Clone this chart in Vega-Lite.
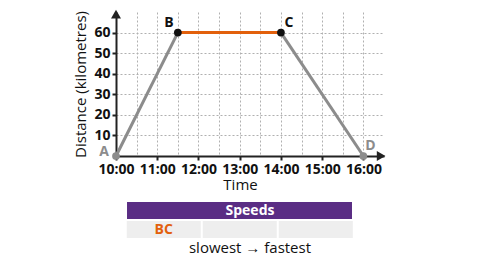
{
  "$schema": "https://vega.github.io/schema/vega-lite/v6.json",
  "padding": {"left": 73, "top": 9, "right": 0, "bottom": 0},
  "background": "white",
  "config": {"view": {"stroke": null}, "font": "Open Sans", "axis": {"labelOverlap": false}},
  "bounds": "flush",
  "spacing": 46,
  "datasets": {
    "segments": [
      {"seg": "AB", "time": 10, "distance": 0},
      {"seg": "AB", "time": 11.5, "distance": 60},
      {"seg": "BC", "time": 11.5, "distance": 60},
      {"seg": "BC", "time": 14, "distance": 60},
      {"seg": "CD", "time": 14, "distance": 60},
      {"seg": "CD", "time": 16, "distance": 0}
    ],
    "points": [
      {"p": "A", "time": 10, "distance": 0},
      {"p": "B", "time": 11.5, "distance": 60},
      {"p": "C", "time": 14, "distance": 60},
      {"p": "D", "time": 16, "distance": 0}
    ]
  },
  "vconcat": [
    {
      "width": 268,
      "height": 144,
      "layer": [
        {
          "data": {"name": "segments"},
          "mark": {"type": "line", "strokeWidth": 3},
          "encoding": {
            "x": {
              "field": "time", "type": "quantitative",
              "scale": {"domain": [10, 16.5], "nice": false, "zero": false},
              "axis": {
                "title": "Time",
                "values": [10, 10.5, 11, 11.5, 12, 12.5, 13, 13.5, 14, 14.5, 15, 15.5, 16],
                "tickCount": 30,
                "labelExpr": "datum.value % 1 == 0 ? datum.value + ':00' : ''",
                "labelOverlap": false, "labelFlush": false,
                "labelFontWeight": "bold", "labelFontSize": 14, "labelColor": "#111",
                "labelPadding": 2,
                "tickSize": 4, "tickWidth": 2, "tickColor": "#222",
                "tickOpacity": {"condition": {"test": "datum.value % 1 == 0", "value": 1}, "value": 0},
                "domainColor": "#222", "domainWidth": 2,
                "grid": true, "gridColor": "#b0b0b0", "gridDash": [2, 2], "gridWidth": 1,
                "titleFontSize": 15, "titleFontWeight": "normal", "titleColor": "#111",
                "titlePadding": 1, "titleX": 124
              }
            },
            "y": {
              "field": "distance", "type": "quantitative",
              "scale": {"domain": [0, 70], "nice": false},
              "axis": {
                "title": "Distance (kilometres)",
                "values": [0, 10, 20, 30, 40, 50, 60],
                "tickCount": 30,
                "labelExpr": "datum.value == 0 ? '' : '' + datum.value",
                "labelOverlap": false, "labelFlush": false,
                "labelFontWeight": "bold", "labelFontSize": 14, "labelColor": "#111",
                "labelPadding": 2,
                "tickSize": 4, "tickWidth": 2, "tickColor": "#222",
                "tickOpacity": {"condition": {"test": "datum.value > 0", "value": 1}, "value": 0},
                "domainColor": "#222", "domainWidth": 2,
                "grid": true, "gridColor": "#b0b0b0", "gridDash": [2, 2], "gridWidth": 1,
                "titleFontSize": 15, "titleFontWeight": "normal", "titleColor": "#111",
                "titlePadding": 5
              }
            },
            "detail": {"field": "seg"},
            "color": {
              "field": "seg", "type": "nominal", "legend": null,
              "scale": {"domain": ["AB", "BC", "CD"], "range": ["#8c8c8c", "#e2600c", "#8c8c8c"]}
            }
          }
        },
        {
          "data": {"values": [{"axis": "y", "time": 10, "distance": 69}]},
          "mark": {"type": "point", "shape": "triangle-up", "filled": true, "size": 100, "color": "#222", "opacity": 1},
          "encoding": {
            "x": {"field": "time", "type": "quantitative"},
            "y": {"field": "distance", "type": "quantitative"}
          }
        },
        {
          "data": {"values": [{"axis": "x", "time": 16.43, "distance": 0}]},
          "mark": {"type": "point", "shape": "triangle-right", "filled": true, "size": 100, "color": "#222", "opacity": 1},
          "encoding": {
            "x": {"field": "time", "type": "quantitative"},
            "y": {"field": "distance", "type": "quantitative"}
          }
        },
        {
          "data": {"name": "points"},
          "mark": {"type": "point", "filled": true, "size": 60, "opacity": 1},
          "encoding": {
            "x": {"field": "time", "type": "quantitative"},
            "y": {"field": "distance", "type": "quantitative"},
            "color": {
              "field": "p", "type": "nominal", "legend": null,
              "scale": {"domain": ["A", "B", "C", "D"], "range": ["#8c8c8c", "#111111", "#111111", "#8c8c8c"]}
            }
          }
        },
        {
          "data": {"name": "points"},
          "transform": [{"filter": "datum.p == 'A'"}],
          "mark": {"type": "text", "fontWeight": "bold", "fontSize": 14, "color": "#8c8c8c", "align": "right", "baseline": "middle", "dx": -7, "dy": -4},
          "encoding": {
            "x": {"field": "time", "type": "quantitative"},
            "y": {"field": "distance", "type": "quantitative"},
            "text": {"field": "p"}
          }
        },
        {
          "data": {"name": "points"},
          "transform": [{"filter": "datum.p == 'B'"}],
          "mark": {"type": "text", "fontWeight": "bold", "fontSize": 14, "color": "#111", "align": "center", "baseline": "middle", "dx": -9, "dy": -10},
          "encoding": {
            "x": {"field": "time", "type": "quantitative"},
            "y": {"field": "distance", "type": "quantitative"},
            "text": {"field": "p"}
          }
        },
        {
          "data": {"name": "points"},
          "transform": [{"filter": "datum.p == 'C'"}],
          "mark": {"type": "text", "fontWeight": "bold", "fontSize": 14, "color": "#111", "align": "center", "baseline": "middle", "dx": 8, "dy": -10},
          "encoding": {
            "x": {"field": "time", "type": "quantitative"},
            "y": {"field": "distance", "type": "quantitative"},
            "text": {"field": "p"}
          }
        },
        {
          "data": {"name": "points"},
          "transform": [{"filter": "datum.p == 'D'"}],
          "mark": {"type": "text", "fontWeight": "bold", "fontSize": 14, "color": "#8c8c8c", "align": "center", "baseline": "middle", "dx": 7, "dy": -10},
          "encoding": {
            "x": {"field": "time", "type": "quantitative"},
            "y": {"field": "distance", "type": "quantitative"},
            "text": {"field": "p"}
          }
        }
      ],
      "resolve": {"scale": {"color": "independent"}}
    },
    {
      "width": 268,
      "height": 55,
      "layer": [
        {
          "data": {"values": [{"row": "Speeds", "part": "table", "text": "Speeds"}]},
          "mark": {"type": "rect", "color": "#5a2d84"},
          "encoding": {
            "x": {"field": "part", "type": "nominal", "axis": null,
                  "scale": {"paddingInner": 0, "paddingOuter": 0.0956, "align": 0.256}},
            "y": {"field": "row", "type": "nominal", "axis": null,
                  "scale": {"domain": ["Speeds", "cells", "caption"], "paddingInner": 0.1, "paddingOuter": 0}}
          }
        },
        {
          "data": {"values": [{"row": "Speeds", "part": "table", "text": "Speeds"}]},
          "mark": {"type": "text", "color": "white", "fontWeight": "bold", "fontSize": 14, "baseline": "middle"},
          "encoding": {
            "x": {"field": "part", "type": "nominal", "axis": null},
            "y": {"field": "row", "type": "nominal", "axis": null},
            "text": {"field": "text"}
          }
        },
        {
          "data": {"values": [{"row": "caption", "part": "table", "text": "slowest → fastest"}]},
          "mark": {"type": "text", "color": "#111", "fontSize": 15, "baseline": "middle"},
          "encoding": {
            "x": {"field": "part", "type": "nominal", "axis": null},
            "y": {"field": "row", "type": "nominal", "axis": null},
            "text": {"field": "text"}
          }
        },
        {
          "data": {"values": [{"cell": "1", "label": "BC"}, {"cell": "2", "label": ""}, {"cell": "3", "label": ""}]},
          "layer": [
            {
              "mark": {"type": "rect", "color": "#eeeeee"},
              "encoding": {
                "x": {"field": "cell", "type": "nominal", "axis": null,
                      "scale": {"paddingInner": 0.026, "paddingOuter": 0.276, "align": 0.256}},
                "y": {"datum": "cells", "type": "nominal"}
              }
            },
            {
              "mark": {"type": "text", "color": "#e2600c", "fontWeight": "bold", "fontSize": 14, "baseline": "middle"},
              "encoding": {
                "x": {"field": "cell", "type": "nominal", "axis": null},
                "y": {"datum": "cells", "type": "nominal"},
                "text": {"field": "label"}
              }
            }
          ]
        }
      ],
      "resolve": {"scale": {"x": "independent"}}
    }
  ]
}
